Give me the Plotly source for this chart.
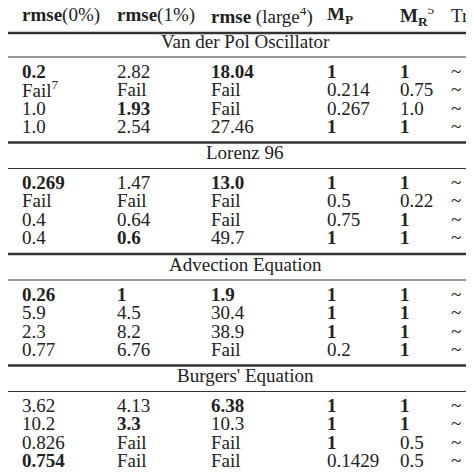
import plotly.graph_objects as go

headers = ['<b>rmse</b>(0%)', '<b>rmse</b>(1%)', '<b>rmse</b> (large<sup>4</sup>)',
           '<b>M<sub>P</sub></b>', '<b>M<sub>R</sub></b><sup>5</sup>', 'Training']
sections = ['Van der Pol Oscillator', 'Lorenz 96', 'Advection Equation', "Burgers' Equation"]

rmse0 = [['<b>0.2</b>', 'Fail<sup>7</sup>', '1.0', '1.0'],
         ['<b>0.269</b>', 'Fail', '0.4', '0.4'],
         ['<b>0.26</b>', '5.9', '2.3', '0.77'],
         ['3.62', '10.2', '0.826', '<b>0.754</b>']]
rmse1 = [['2.82', 'Fail', '<b>1.93</b>', '2.54'],
         ['1.47', 'Fail', '0.64', '<b>0.6</b>'],
         ['<b>1</b>', '4.5', '8.2', '6.76'],
         ['4.13', '<b>3.3</b>', 'Fail', 'Fail']]
rmse_large = [['<b>18.04</b>', 'Fail', 'Fail', '27.46'],
              ['<b>13.0</b>', 'Fail', 'Fail', '49.7'],
              ['<b>1.9</b>', '30.4', '38.9', 'Fail'],
              ['<b>6.38</b>', '10.3', 'Fail', 'Fail']]
m_p = [['<b>1</b>', '0.214', '0.267', '<b>1</b>'],
       ['<b>1</b>', '0.5', '0.75', '<b>1</b>'],
       ['<b>1</b>', '<b>1</b>', '<b>1</b>', '0.2'],
       ['<b>1</b>', '<b>1</b>', '<b>1</b>', '0.1429']]
m_r = [['<b>1</b>', '0.75', '1.0', '<b>1</b>'],
       ['<b>1</b>', '0.22', '<b>1</b>', '<b>1</b>'],
       ['<b>1</b>', '<b>1</b>', '<b>1</b>', '<b>1</b>'],
       ['<b>1</b>', '<b>1</b>', '0.5', '0.5']]
training = [['~ 1', '~ 1', '~ 1', '~ 1'],
            ['~ 1', '~ 1', '~ 1', '~ 2'],
            ['~ 9', '~ 6', '~ 1', '~ 4'],
            ['~ 1', '~ 5', '~ 1', '~ 4']]

col_x = [12, 107, 201, 317, 390, 441]
FONT = dict(family='Liberation Serif, DejaVu Serif, serif', size=19, color='#222')

fig = go.Figure()
ann = []
shapes = []

def text(x, y, t, anchor='left'):
    ann.append(dict(x=x, y=y, xref='x', yref='y', text=t, showarrow=False,
                    xanchor=anchor, yanchor='middle', font=FONT))

def hline(y, w):
    shapes.append(dict(type='line', xref='x', yref='y', x0=0, x1=474, y0=y, y1=y,
                       line=dict(color='#333', width=w)))

for c, h in enumerate(headers):
    text(col_x[c], 7, h)
hline(25, 2.5)

columns = [rmse0, rmse1, rmse_large, m_p, m_r, training]
for s, name in enumerate(sections):
    base = 23 + 111.5 * s
    if s > 0:
        hline(base, 2.5)
    text(237, base + 10, name, 'center')
    hline(base + 26, 1)
    for r, dy in enumerate([40, 58, 77, 95]):
        for c, col in enumerate(columns):
            text(col_x[c], base + dy, col[s][r])

fig.update_layout(
    width=474, height=474, margin=dict(l=0, r=0, t=0, b=0),
    paper_bgcolor='white', plot_bgcolor='white',
    xaxis=dict(range=[0, 474], visible=False),
    yaxis=dict(range=[474, 0], visible=False),
    annotations=ann, shapes=shapes, showlegend=False,
)
fig.write_html("out.html")
